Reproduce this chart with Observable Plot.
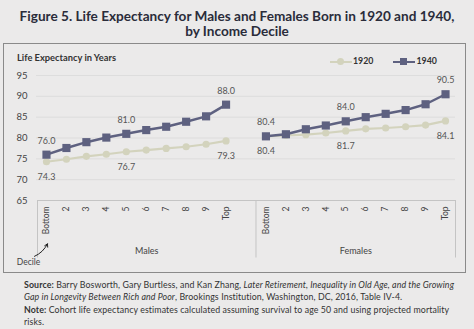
<!DOCTYPE html>
<html><head><meta charset="utf-8">
<script src="https://cdn.jsdelivr.net/npm/d3@7"></script>
<script src="https://cdn.jsdelivr.net/npm/@observablehq/plot@0.6"></script>
<style>
body{margin:0;background:#ebeaea;width:474px;height:329px;overflow:hidden;font-family:Lato,sans-serif;position:relative}
#title{position:absolute;left:0;top:9px;width:474px;text-align:center;font-weight:bold;font-size:13.6px;line-height:15px;color:#2a2c3a}
#box{position:absolute;left:3px;top:43px;width:461px;height:228px;border:1px solid #8a8a8a}
#ylab{position:absolute;left:13px;top:8px;font-size:9.3px;font-weight:bold;color:#333}
#legend{position:absolute;left:326px;top:11px;font-size:8.8px;font-weight:bold;color:#333;white-space:nowrap}
.it{display:inline-block;margin-right:20px}
.sw{display:inline-block;position:relative;width:22px;height:2px;vertical-align:middle;margin-right:1px}
.mk{position:absolute;left:7px;top:-3px;width:7px;height:7px}
#notes{position:absolute;left:24px;top:279px;font-size:8.8px;letter-spacing:0.1px;line-height:12px;color:#333;width:430px}
#notes p{margin:0 0 1px 0}
</style></head>
<body>
<div id="title">Figure 5. Life Expectancy for Males and Females Born in 1920 and 1940,<br>by Income Decile</div>
<div id="box">
  <div id="chart"></div>
  <div id="ylab">Life Expectancy in Years</div>
  <div id="legend"></div>
</div>
<div id="notes">
<p><b>Source:</b> Barry Bosworth, Gary Burtless, and Kan Zhang, <i>Later Retirement, Inequality in Old Age, and the Growing Gap in Longevity Between Rich and Poor</i>, Brookings Institution, Washington, DC, 2016, Table IV-4.</p>
<p><b>Note:</b> Cohort life expectancy estimates calculated assuming survival to age 50 and using projected mortality risks.</p>
</div>
<script>
const deciles = ["Bottom","2","3","4","5","6","7","8","9","Top"];
const groups = ["Males","Females"];
const years = ["1920","1940"];
const males1920   = [74.3, 74.9, 75.6, 76.1, 76.7, 77.1, 77.5, 77.9, 78.5, 79.3];
const males1940   = [76.0, 77.6, 79.0, 80.1, 81.0, 81.9, 82.7, 83.9, 85.2, 88.0];
const females1920 = [80.4, 80.6, 80.8, 81.2, 81.7, 82.2, 82.4, 82.7, 83.1, 84.1];
const females1940 = [80.4, 80.9, 82.1, 83.0, 84.0, 85.0, 85.8, 86.7, 88.1, 90.5];
const yTicks = [65, 70, 75, 80, 85, 90, 95];
const labelled = [0, 4, 9]; // indices whose values are printed

const colors = {"1920": "#d3d3bd", "1940": "#5e6180"};
const series = [
  {group: "Males", year: "1920", values: males1920},
  {group: "Males", year: "1940", values: males1940},
  {group: "Females", year: "1920", values: females1920},
  {group: "Females", year: "1940", values: females1940}
];
const offset = {Males: 0, Females: 11};
const rows = series.flatMap(s => s.values.map((v, i) => ({
  group: s.group, year: s.year, key: s.group + s.year, i, x: offset[s.group] + i, v, label: deciles[i]
})));
const cats = groups.flatMap(g => deciles.map((d, i) => ({x: offset[g] + i, d})));
const lab = rows.filter(r => labelled.includes(r.i));
const r1920 = rows.filter(r => r.year === "1920");
const r1940 = rows.filter(r => r.year === "1940");
const dividers = [-0.45, 10.5, 20.5];
const groupCenters = [{g: "Males", x: (dividers[0] + dividers[1]) / 2}, {g: "Females", x: (dividers[1] + dividers[2]) / 2}];

const chart = Plot.plot({
  width: 461, height: 228,
  marginLeft: 32, marginRight: 10, marginTop: 31, marginBottom: 72,
  style: {background: "transparent", fontFamily: "Lato, sans-serif", fontSize: "9.5px", color: "#444"},
  x: {domain: [-0.5, 20.5], axis: null},
  y: {domain: [65, 95], ticks: yTicks, tickSize: 0, tickPadding: 9, label: null, tickFormat: d => d},
  marks: [
    Plot.ruleY(yTicks.filter(t => t > 65), {stroke: "#d9d9d9", strokeWidth: 0.8}),
    Plot.ruleY([65], {stroke: "#c4c4c4", x1: dividers[0], x2: dividers[2]}),
    Plot.ruleX(dividers, {y1: 65, y2: 51.2, stroke: "#c4c4c4"}),
    Plot.text(cats, {x: "x", y: 65, text: "d", rotate: -90, textAnchor: "end", dy: 6, fill: "#444", fontSize: 8.5}),
    Plot.text(groupCenters, {x: "x", y: 65, text: "g", dy: 51, fill: "#444", fontSize: 9}),
    Plot.text(["Decile"], {x: -0.9, y: 65, text: d => d, dy: 62, fill: "#444", fontSize: 8.5}),
    Plot.arrow([0], {x1: -0.6, y1: 51.6, x2: 0.05, y2: 54.6, bend: -20, stroke: "#222", strokeWidth: 1, headLength: 5}),
    Plot.line(r1920, {x: "x", y: "v", z: "key", stroke: colors["1920"], strokeWidth: 2.2}),
    Plot.dot(r1920, {x: "x", y: "v", r: 3.6, fill: colors["1920"], symbol: "circle"}),
    Plot.line(r1940, {x: "x", y: "v", z: "key", stroke: colors["1940"], strokeWidth: 2.5}),
    Plot.dot(r1940, {x: "x", y: "v", r: 4.6, fill: colors["1940"], symbol: "square"}),
    Plot.text(lab.filter(r => r.year === "1940"), {x: "x", y: "v", text: d => d.v.toFixed(1), dy: -14, fill: "#555", fontSize: 9}),
    Plot.text(lab.filter(r => r.year === "1920"), {x: "x", y: "v", text: d => d.v.toFixed(1), dy: 15, fill: "#555", fontSize: 9})
  ]
});
document.getElementById("chart").appendChild(chart);

const leg = document.getElementById("legend");
years.forEach(y => {
  const it = document.createElement("span"); it.className = "it";
  const sw = document.createElement("span"); sw.className = "sw"; sw.style.background = colors[y];
  const mk = document.createElement("span"); mk.className = "mk"; mk.style.background = colors[y];
  if (y === "1920") mk.style.borderRadius = "50%";
  sw.appendChild(mk); it.appendChild(sw); it.appendChild(document.createTextNode(y));
  leg.appendChild(it);
});
</script>
</body></html>
